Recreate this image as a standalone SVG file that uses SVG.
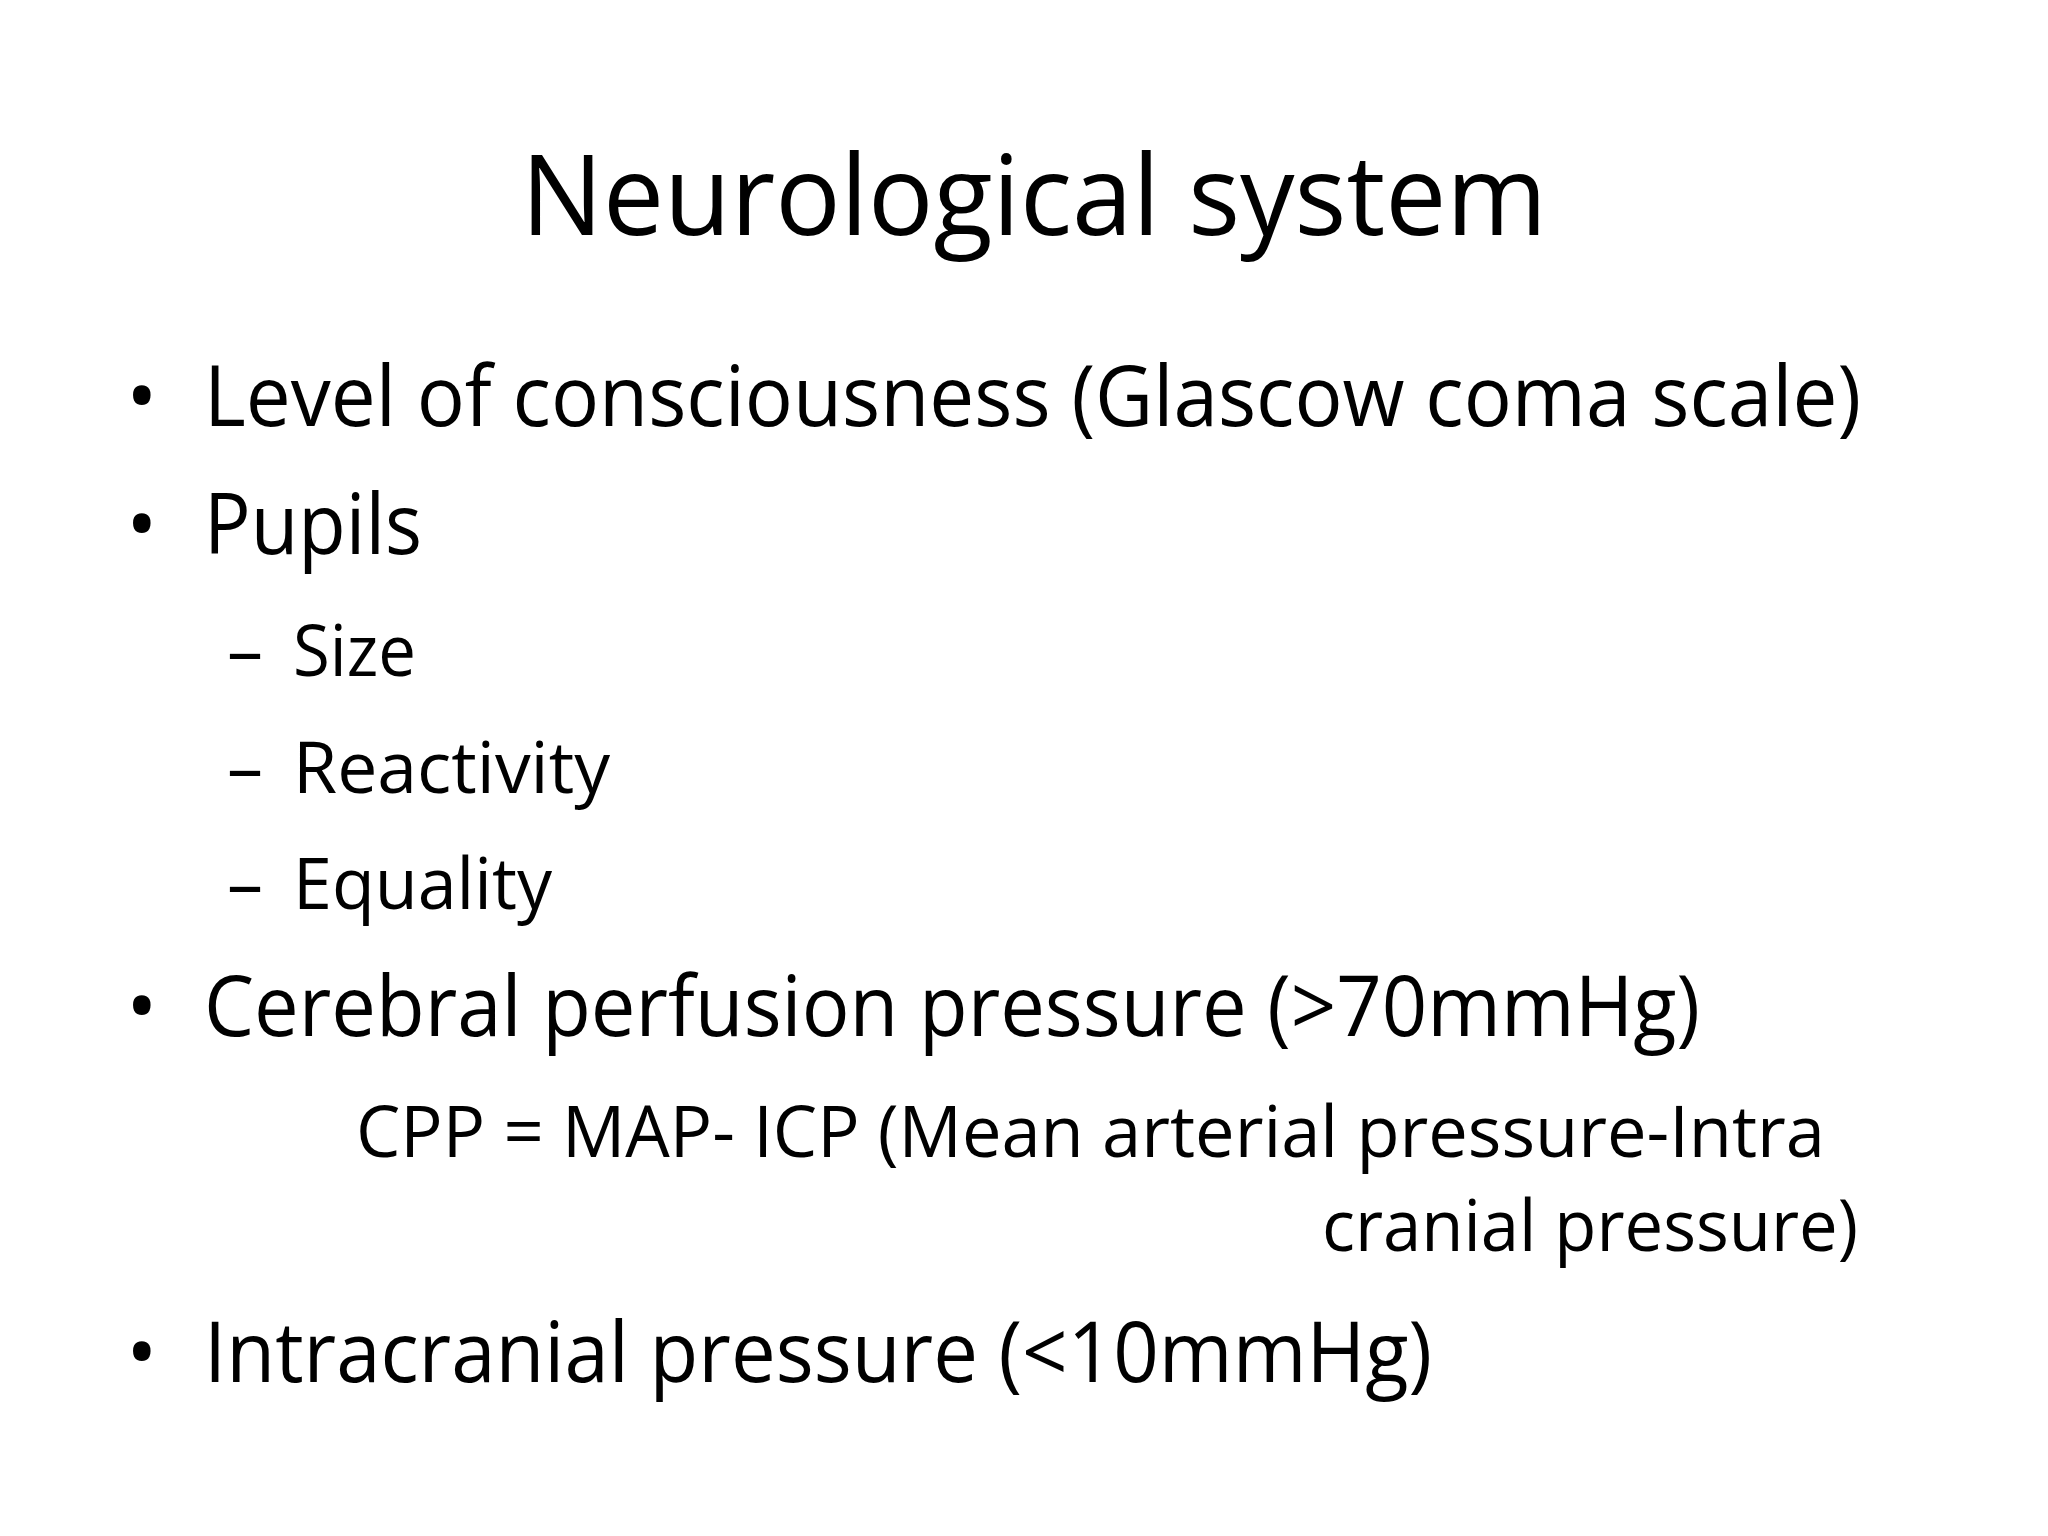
<svg xmlns="http://www.w3.org/2000/svg" width="2048" height="1536" viewBox="0 0 2048 1536">
<style>
text{font-family:"Open Sans","Noto Sans","Liberation Sans",sans-serif;fill:#000}
.t{font-size:112px}
.b{font-size:84px}
.s{font-size:72px}
</style>
<rect width="2048" height="1536" fill="#fff"/>
<text class="t" x="521" y="235" textLength="1026" lengthAdjust="spacingAndGlyphs">Neurological system</text>
<g class="b">
<text x="126" y="426">•</text>
<text x="204" y="426" textLength="1657" lengthAdjust="spacingAndGlyphs">Level of consciousness (Glascow coma scale)</text>
<text x="126" y="554">•</text>
<text x="204" y="554" textLength="218" lengthAdjust="spacingAndGlyphs">Pupils</text>
<text x="126" y="1036">•</text>
<text x="204" y="1036" textLength="1496" lengthAdjust="spacingAndGlyphs">Cerebral perfusion pressure (&gt;70mmHg)</text>
<text x="126" y="1382">•</text>
<text x="204" y="1382" textLength="1228" lengthAdjust="spacingAndGlyphs">Intracranial pressure (&lt;10mmHg)</text>
</g>
<g class="s">
<text x="227" y="676">–</text>
<text x="293" y="676" textLength="123" lengthAdjust="spacingAndGlyphs">Size</text>
<text x="227" y="793">–</text>
<text x="293" y="793" textLength="317" lengthAdjust="spacingAndGlyphs">Reactivity</text>
<text x="227" y="909">–</text>
<text x="293" y="909" textLength="259" lengthAdjust="spacingAndGlyphs">Equality</text>
<text x="356" y="1157" textLength="1469" lengthAdjust="spacingAndGlyphs">CPP = MAP- ICP (Mean arterial pressure-Intra</text>
<text x="1322" y="1251" textLength="536" lengthAdjust="spacingAndGlyphs">cranial pressure)</text>
</g>
</svg>
